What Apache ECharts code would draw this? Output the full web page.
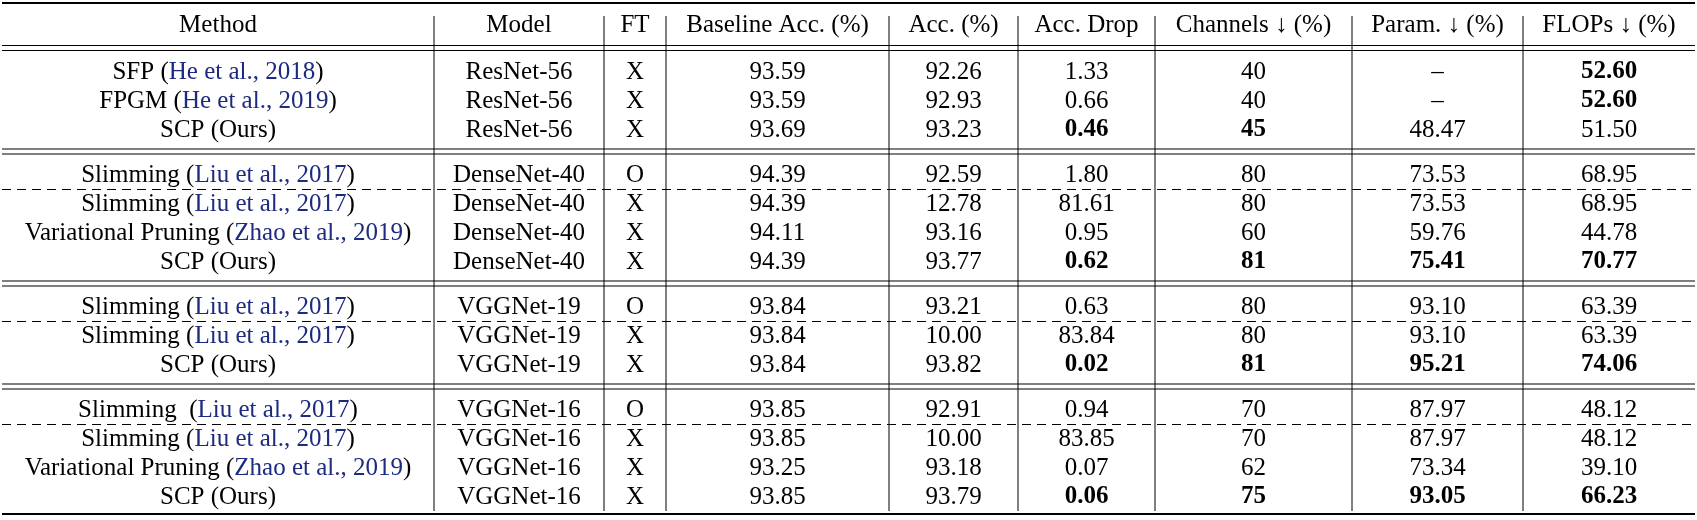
<!DOCTYPE html>
<html><head><meta charset="utf-8">
<script src="https://cdn.jsdelivr.net/npm/echarts@6/dist/echarts.min.js"></script>
<style>html,body{margin:0;padding:0;background:#fff}#c{width:1697px;height:520px}</style>
</head><body><div id="c"></div>
<script>
const headers = ["Method","Model","FT","Baseline Acc. (%)","Acc. (%)","Acc. Drop","Channels \u2193 (%)","Param. \u2193 (%)","FLOPs \u2193 (%)"];
const methodNames = ["SFP","FPGM","SCP","Slimming","Slimming","Variational Pruning","SCP","Slimming","Slimming","SCP","Slimming ","Slimming","Variational Pruning","SCP"];
const citations = ["He et al., 2018","He et al., 2019","Ours","Liu et al., 2017","Liu et al., 2017","Zhao et al., 2019","Ours","Liu et al., 2017","Liu et al., 2017","Ours","Liu et al., 2017","Liu et al., 2017","Zhao et al., 2019","Ours"];
const models = ["ResNet-56","ResNet-56","ResNet-56","DenseNet-40","DenseNet-40","DenseNet-40","DenseNet-40","VGGNet-19","VGGNet-19","VGGNet-19","VGGNet-16","VGGNet-16","VGGNet-16","VGGNet-16"];
const ft = ["X","X","X","O","X","X","X","O","X","X","O","X","X","X"];
const baselineAcc = ["93.59","93.59","93.69","94.39","94.39","94.11","94.39","93.84","93.84","93.84","93.85","93.85","93.25","93.85"];
const acc = ["92.26","92.93","93.23","92.59","12.78","93.16","93.77","93.21","10.00","93.82","92.91","10.00","93.18","93.79"];
const accDrop = ["1.33","0.66","0.46","1.80","81.61","0.95","0.62","0.63","83.84","0.02","0.94","83.85","0.07","0.06"];
const channels = ["40","40","45","80","80","60","81","80","80","81","70","70","62","75"];
const params = ["\u2013","\u2013","48.47","73.53","73.53","59.76","75.41","93.10","93.10","95.21","87.97","87.97","73.34","93.05"];
const flops = ["52.60","52.60","51.50","68.95","68.95","44.78","70.77","63.39","63.39","74.06","48.12","48.12","39.10","66.23"];
// bold cells: row index -> list of column indices
const boldCells = {0:[8],1:[8],2:[5,6],6:[5,6,7,8],9:[5,6,7,8],13:[5,6,7,8]};
const groupSizes = [3,4,3,4];

const seps = [434,604,666,889,1018,1155,1352,1523];
const L = 2, R = 1695;
const edges = [L, ...seps, R];
const centers = edges.slice(0,-1).map((e,i)=>(e+edges[i+1])/2);
const FONT = "'Liberation Serif','DejaVu Serif',serif";
const FS = 25;
const els = [];
function txt(x,y,t,bold){els.push({type:'text',x:x,y:y,style:{text:t,font:(bold?'bold ':'')+FS+'px '+FONT,fill:'#000',align:'center',verticalAlign:'middle'}});}
function hline(y,w,dash){els.push({type:'line',shape:{x1:L,y1:y,x2:R,y2:y},style:{stroke:'#000',lineWidth:w,lineDash:dash||null}});}
hline(3,2); hline(514,2);
headers.forEach((h,i)=>txt(centers[i],25,h,false));
hline(45.5,1.2); hline(50.5,1.2);
const rowY=[]; let y=72;
groupSizes.forEach((g,gi)=>{
  for(let k=0;k<g;k++){rowY.push(y); y+=29;}
  if(gi<groupSizes.length-1){hline(y-10,1.2); hline(y-5,1.2); y+=16-0;}
  y-=13; y+=13;
});
// recompute to place next group row after double
</script>
<script>
// rebuild rows properly
els.length=0;
hline(3,2); hline(514,2);
headers.forEach((h,i)=>txt(centers[i],25,h,false));
hline(45.5,1.2); hline(50.5,1.2);
rowY.length=0; y=72;
groupSizes.forEach((g,gi)=>{
  for(let k=0;k<g;k++){rowY.push(y); if(k<g-1) y+=29;}
  if(gi<groupSizes.length-1){hline(y+19,1.2); hline(y+24,1.2); y+=45;}
});
let idx=0; groupSizes.forEach((g,gi)=>{ if(gi>0) hline(rowY[idx]+14.5,1,[9,6]); idx+=g; });
const cols=[models,ft,baselineAcc,acc,accDrop,channels,params,flops];
rowY.forEach((yy,ri)=>{
  els.push({type:'text',x:centers[0],y:yy,style:{text:'{n|'+methodNames[ri]+' (}{c|'+citations[ri]+'}{n|)}',align:'center',verticalAlign:'middle',
    rich:{n:{font:FS+'px '+FONT,fill:'#000'},c:{font:FS+'px '+FONT,fill:citations[ri]==='Ours'?'#000':'#1c2a80'}}}});
  cols.forEach((c,ci)=>{const b=(boldCells[ri]||[]).includes(ci+1); txt(centers[ci+1],yy,c[ri],b);});
});
seps.forEach(x=>els.push({type:'line',shape:{x1:x,y1:16,x2:x,y2:511},style:{stroke:'#000',lineWidth:1}}));
const chart=echarts.init(document.getElementById('c'));
chart.setOption({animation:false,graphic:{elements:els}});
</script></body></html>
